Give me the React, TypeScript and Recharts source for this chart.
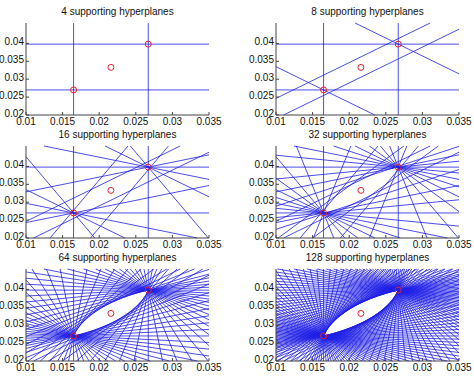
import { ScatterChart, Scatter, XAxis, YAxis, ReferenceLine } from 'recharts'

// hyperplane counts per panel, row by row
const PLANE_COUNTS = [4, 8, 16, 32, 64, 128]
const X_TICKS = [0.01, 0.015, 0.02, 0.025, 0.03, 0.035]
const Y_TICKS = [0.02, 0.025, 0.03, 0.035, 0.04]
const X_RANGE = [0.01, 0.035]
const Y_RANGE = [0.02, 0.0457]

// the convex set: a lens between two tips, bulging out by LENS_BULGE
const LENS_TIPS = [
  { x: 0.0165, y: 0.027 },
  { x: 0.0267, y: 0.0398 },
]
const LENS_BULGE = [0.0019]

const MARKERS = [
  { x: 0.0165, y: 0.027 },
  { x: 0.0216, y: 0.0333 },
  { x: 0.0267, y: 0.0398 },
]

const FONT = 'Liberation Sans, Arial, Helvetica, sans-serif'
const LINE_COLOR = '#1f1fe6'

type Pt = { x: number; y: number }

function supportValue(ux: number, uy: number) {
  const [a, b] = LENS_TIPS
  const w = LENS_BULGE[0]
  const mx = (a.x + b.x) / 2
  const my = (a.y + b.y) / 2
  const ax = b.x - a.x
  const ay = b.y - a.y
  const len = Math.hypot(ax, ay)
  const half = len / 2
  const nx = -ay / len
  const ny = ax / len
  const R = (half * half + w * w) / (2 * w)
  const cosB = (R - w) / R
  let h = Math.max(ux * a.x + uy * a.y, ux * b.x + uy * b.y)
  const dn = ux * nx + uy * ny
  if (dn >= cosB) {
    const cx = mx - (R - w) * nx
    const cy = my - (R - w) * ny
    h = Math.max(h, ux * cx + uy * cy + R)
  }
  if (-dn >= cosB) {
    const cx = mx + (R - w) * nx
    const cy = my + (R - w) * ny
    h = Math.max(h, ux * cx + uy * cy + R)
  }
  return h
}

function hyperplaneSegments(count: number): Pt[][] {
  const out: Pt[][] = []
  for (let k = 0; k < count; k++) {
    const t = (2 * Math.PI * k) / count
    const ux = Math.cos(t)
    const uy = Math.sin(t)
    const h = supportValue(ux, uy)
    const x0 = h * ux
    const y0 = h * uy
    const dx = -uy
    const dy = ux
    let lo = -Infinity
    let hi = Infinity
    let ok = true
    const clip = (p: number, d: number, min: number, max: number) => {
      if (Math.abs(d) < 1e-12) {
        if (p < min || p > max) ok = false
        return
      }
      const t1 = (min - p) / d
      const t2 = (max - p) / d
      lo = Math.max(lo, Math.min(t1, t2))
      hi = Math.min(hi, Math.max(t1, t2))
    }
    clip(x0, dx, X_RANGE[0], X_RANGE[1])
    clip(y0, dy, Y_RANGE[0], Y_RANGE[1])
    if (!ok || !(lo < hi)) continue
    out.push([
      { x: x0 + lo * dx, y: y0 + lo * dy },
      { x: x0 + hi * dx, y: y0 + hi * dy },
    ])
  }
  return out
}

const tickStyle = { fontSize: 10, fill: '#111', fontFamily: FONT }

function YTick({ x, y, payload }: any) {
  return (
    <text x={x} y={y - 1.5} dy={3.5} textAnchor="end" fontSize={10} fill="#111" fontFamily={FONT}>
      {String(payload.value)}
    </text>
  )
}

function Panel({ count, left, top, yWidth, right }: { count: number; left: number; top: number; yWidth: number; right: number }) {
  const segments = hyperplaneSegments(count)
  return (
    <div style={{ position: 'absolute', left, top, width: 237, height: 135 }}>
      <div
        style={{
          position: 'absolute',
          left: yWidth,
          width: 183,
          top: 6,
          textAlign: 'center',
          fontSize: 10,
          lineHeight: '12px',
          fontFamily: FONT,
          color: '#111',
          whiteSpace: 'nowrap',
        }}
      >
        {count} supporting hyperplanes
      </div>
      <ScatterChart width={237} height={135} margin={{ top: 23, right, bottom: 0, left: 0 }}>
        <XAxis
          type="number"
          dataKey="x"
          domain={X_RANGE}
          ticks={X_TICKS}
          interval={0}
          allowDataOverflow
          height={20}
          tickSize={-3}
          tickMargin={6}
          stroke="#444"
          tick={tickStyle}
          tickFormatter={(v) => String(v)}
        />
        <YAxis
          type="number"
          dataKey="y"
          domain={Y_RANGE}
          ticks={Y_TICKS}
          interval={0}
          allowDataOverflow
          width={yWidth}
          tickSize={-3}
          tickMargin={5}
          stroke="#444"
          tick={<YTick />}
        />
        {segments.map((s, i) => (
          <ReferenceLine
            key={i}
            segment={s}
            ifOverflow="visible"
            stroke={LINE_COLOR}
            strokeWidth={0.8}
          />
        ))}
        <Scatter
          data={MARKERS}
          isAnimationActive={false}
          shape={(p: any) => <circle cx={p.cx} cy={p.cy} r={3} fill="none" stroke="#e8202a" strokeWidth={1} />}
        />
      </ScatterChart>
    </div>
  )
}

export default function App() {
  return (
    <div style={{ position: 'absolute', left: 0, top: 0, width: 474, height: 376, background: '#fff', overflow: 'hidden' }}>
      {PLANE_COUNTS.map((c, i) => {
        const col = i % 2
        const row = Math.floor(i / 2)
        return (
          <Panel
            key={c}
            count={c}
            left={col === 0 ? 0 : 237}
            top={row * 123}
            yWidth={col === 0 ? 26 : 39}
            right={col === 0 ? 28 : 15}
          />
        )
      })}
    </div>
  )
}
